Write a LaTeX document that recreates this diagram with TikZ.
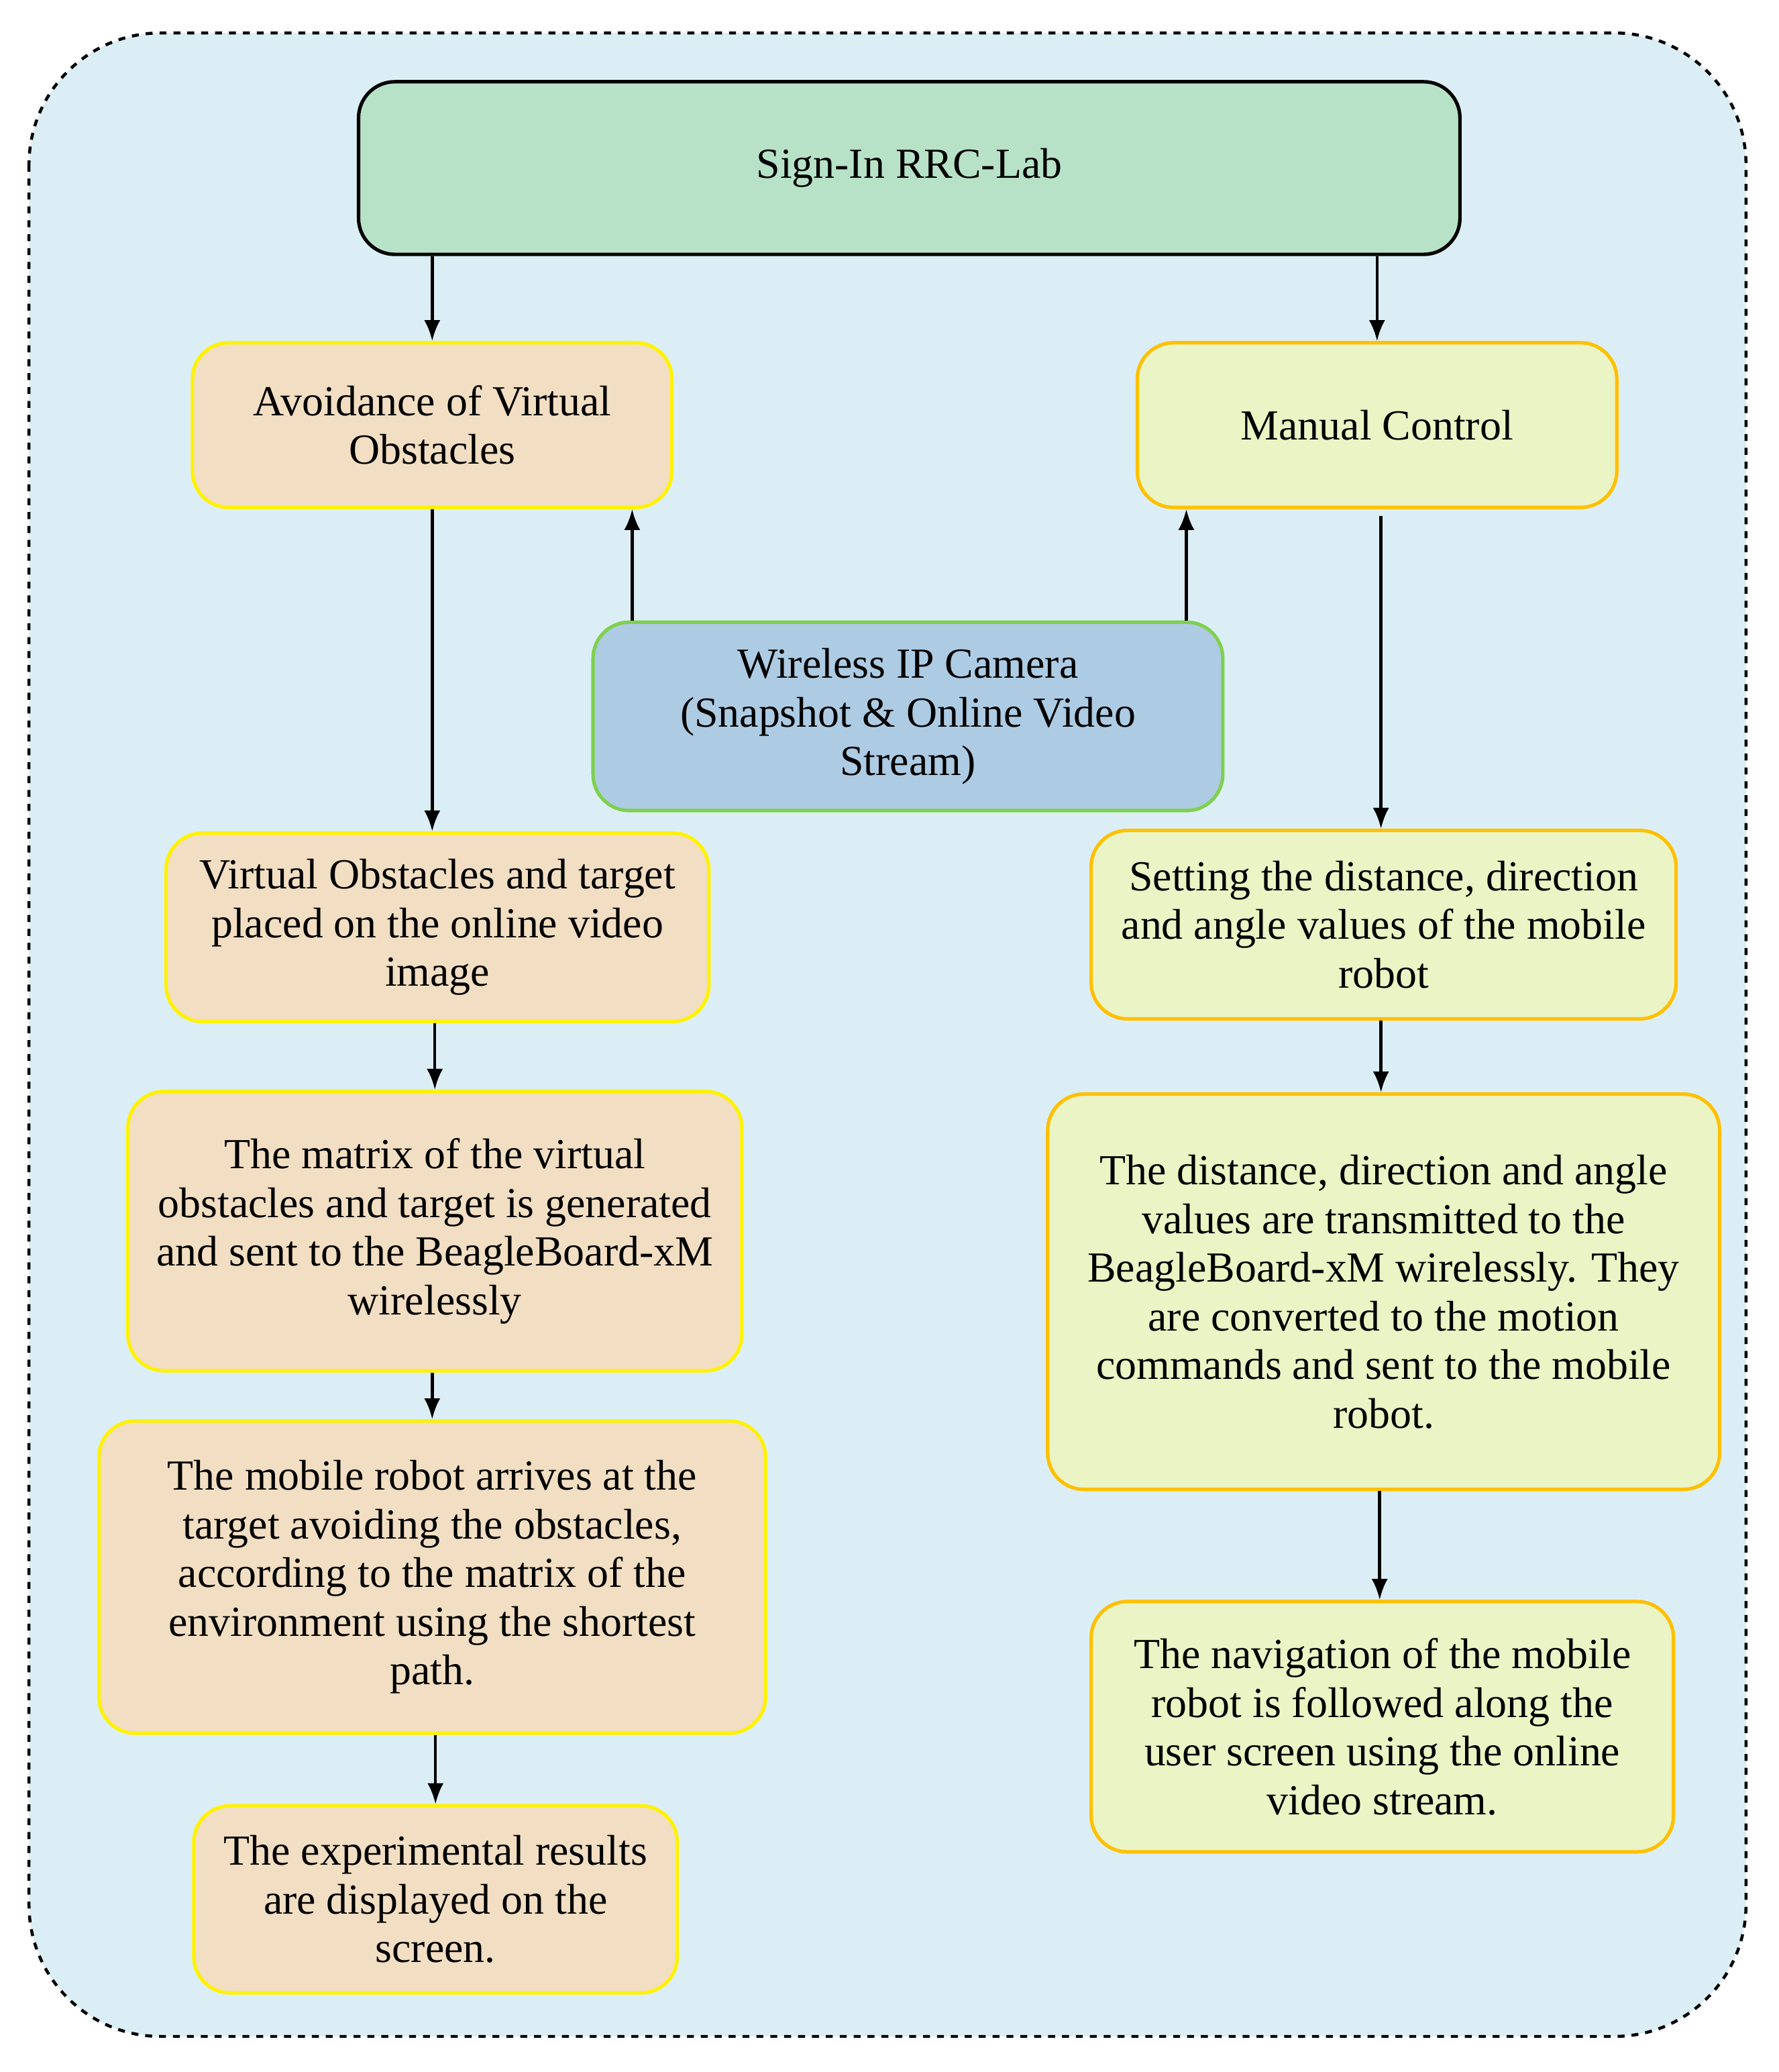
\documentclass[tikz,border=0pt]{standalone}
\usepackage{fontspec}
\setmainfont{Liberation Serif}
\usetikzlibrary{arrows.meta,calc}
\definecolor{bg}{HTML}{DCEEF5}
\definecolor{gfill}{HTML}{B7E2C8}
\definecolor{ofill}{HTML}{F2DEC2}
\definecolor{yfill}{HTML}{EAF4C4}
\definecolor{bfill}{HTML}{ADCBE3}
\definecolor{ybord}{HTML}{FFF200}
\definecolor{obord}{HTML}{FFC000}
\definecolor{gbord}{HTML}{7FD04F}
\tikzset{
  box/.style={draw, line width=1.5pt, rounded corners=0.55cm, align=center, inner sep=2pt,
    font=\fontsize{18.5}{21}\selectfont},
  lbox/.style={box, fill=ofill, draw=ybord},
  rbox/.style={box, fill=yfill, draw=obord},
  arr/.style={-{Latex[length=9pt,width=7pt]}, line width=1.3pt}
}
\begin{document}
\begin{tikzpicture}[x=0.02cm,y=-0.02cm]
\useasboundingbox (0,0) rectangle (1350,1572);
\draw[dashed, line width=1.3pt, fill=bg, rounded corners=2cm] (22,25) rectangle (1325,1545);
\node[box, fill=gfill, draw=black, minimum width=16.72cm, minimum height=2.62cm] (sign) at (690,127.5) {Sign-In RRC-Lab};
\node[lbox, minimum width=7.28cm, minimum height=2.5cm] (avoid) at (328,322.5) {Avoidance of Virtual\\Obstacles};
\node[rbox, minimum width=7.28cm, minimum height=2.5cm] (manual) at (1045,322.5) {Manual Control};
\node[box, fill=bfill, draw=gbord, minimum width=9.56cm, minimum height=2.86cm] (wire) at (689,543.5) {Wireless IP Camera\\(Snapshot \& Online Video\\Stream)};
\node[lbox, minimum width=8.24cm, minimum height=2.86cm] (virt) at (332,703.5) {Virtual Obstacles and target\\placed on the online video\\image};
\node[rbox, minimum width=8.88cm, minimum height=2.86cm] (set) at (1050,701.5) {Setting the distance, direction\\and angle values of the mobile\\robot};
\node[lbox, minimum width=9.32cm, minimum height=4.24cm] (matrix) at (330,934) {The matrix of the virtual\\obstacles and target is generated\\and sent to the BeagleBoard-xM\\wirelessly};
\node[rbox, minimum width=10.2cm, minimum height=6.0cm] (dist) at (1050,980) {The distance, direction and angle\\values are transmitted to the\\BeagleBoard-xM wirelessly. They\\are converted to the motion\\commands and sent to the mobile\\robot.};
\node[lbox, minimum width=10.12cm, minimum height=4.74cm] (mob) at (328,1196.5) {The mobile robot arrives at the\\target avoiding the obstacles,\\according to the matrix of the\\environment using the shortest\\path.};
\node[rbox, minimum width=8.84cm, minimum height=3.8cm] (nav) at (1049,1310) {The navigation of the mobile\\robot is followed along the\\user screen using the online\\video stream.};
\node[lbox, minimum width=7.34cm, minimum height=2.84cm] (exp) at (330.5,1441) {The experimental results\\are displayed on the\\screen.};
\draw[arr] (sign.south -| avoid.north) -- (avoid.north);
\draw[arr] (sign.south -| manual.north) -- (manual.north);
\draw[arr] (avoid.south) -- (virt.north -| avoid.south);
\coordinate (w1) at ($(wire.north west)+(31,0)$);
\coordinate (w2) at ($(wire.north east)+(-29,0)$);
\draw[arr] (w1) -- (w1 |- avoid.south);
\draw[arr] (w2) -- (w2 |- manual.south);
\draw[arr] ($(manual.south)+(3,5)$) -- (set.north -| 1048,0);
\draw[arr] (virt.south -| matrix.north) -- (matrix.north);
\draw[arr] (matrix.south -| mob.north) -- (mob.north);
\draw[arr] (mob.south -| exp.north) -- (exp.north);
\draw[arr] (set.south -| 1048,0) -- (dist.north -| 1048,0);
\draw[arr] (dist.south -| 1047,0) -- (nav.north -| 1047,0);
\end{tikzpicture}
\end{document}
